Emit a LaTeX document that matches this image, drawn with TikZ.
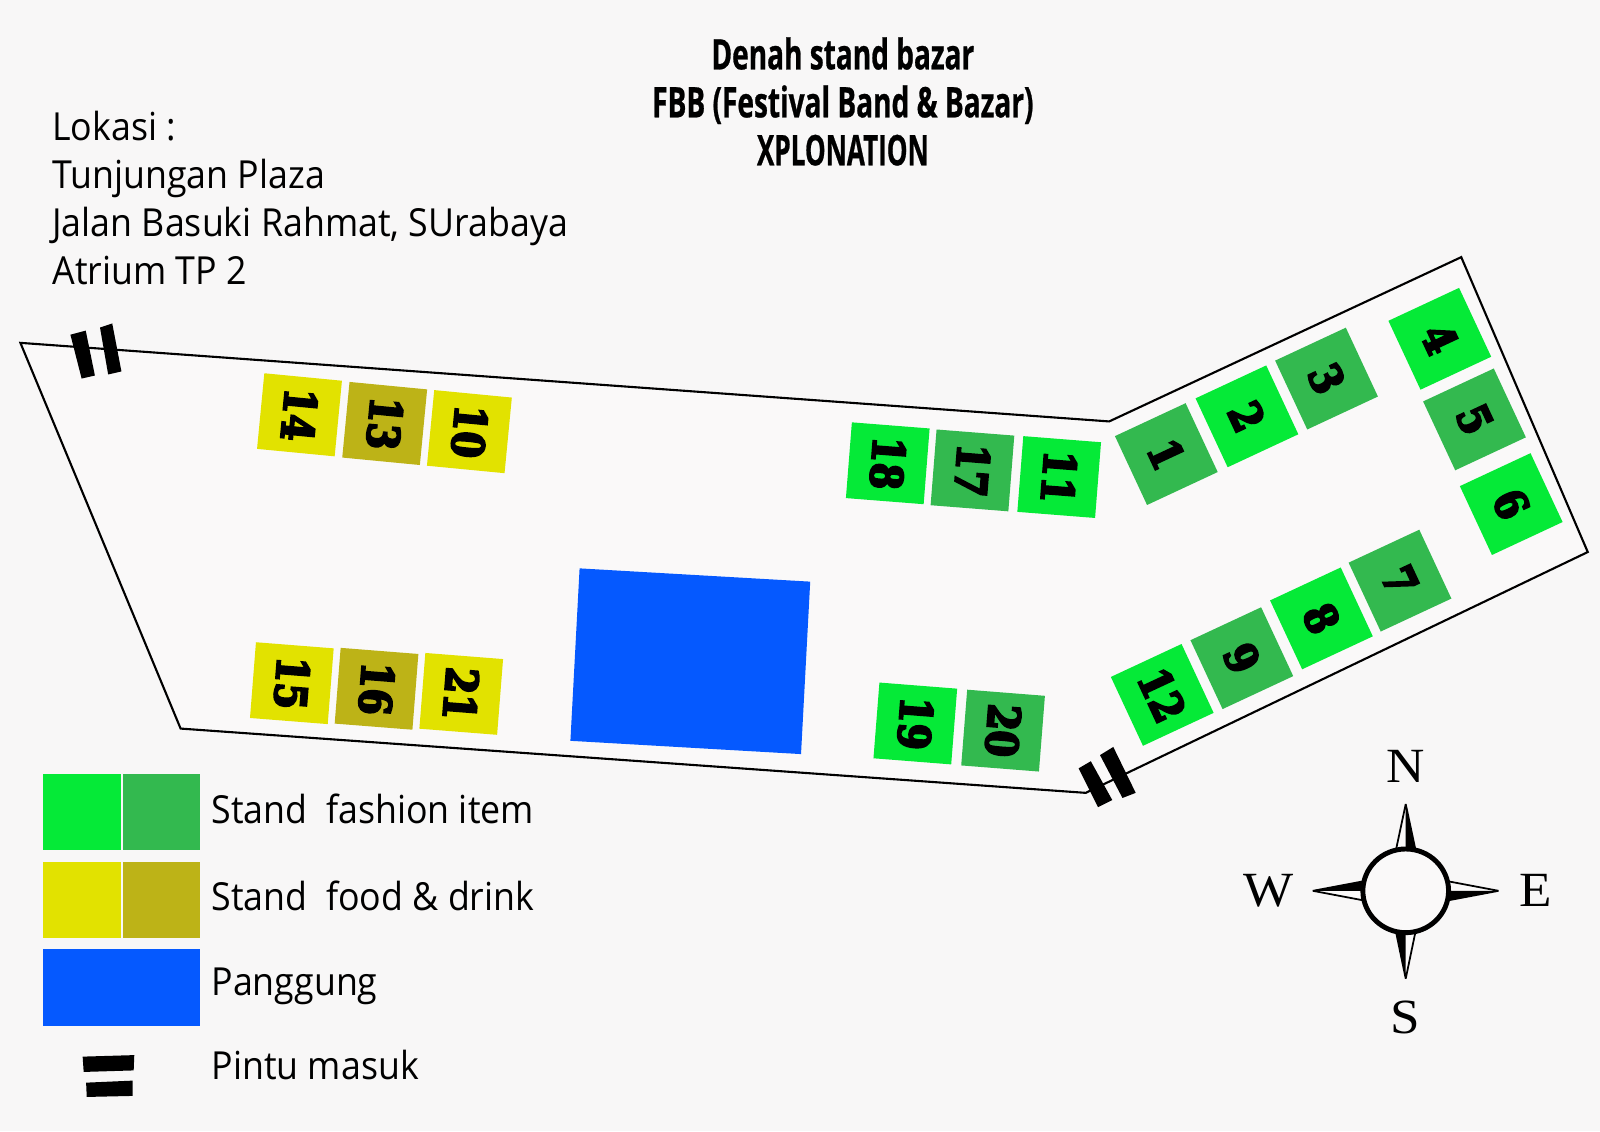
\documentclass[tikz,border=0pt]{standalone}
\usepackage{fontspec}
\usepackage{graphicx}
\setmainfont{Open Sans}
\newfontfamily\bodyf[FakeStretch=0.925]{Open Sans}
\newfontfamily\titlef[FakeStretch=0.665,FakeBold=0.6]{Open Sans}
\newfontfamily\numf[FakeBold=5,FakeStretch=0.86]{DejaVu Serif}
\newfontfamily\compf[FakeStretch=1.08]{Liberation Serif}
\definecolor{bgc}{HTML}{F8F7F7}
\definecolor{inner}{HTML}{FAF9F9}
\definecolor{gA}{HTML}{05EA37}
\definecolor{gB}{HTML}{33B94F}
\definecolor{yA}{HTML}{E2E200}
\definecolor{yB}{HTML}{BDB317}
\definecolor{bl}{HTML}{0559FF}
\tikzset{
  stand/.style={minimum width=1.56cm,minimum height=1.52cm,inner sep=0pt,font=\numf\bfseries\fontsize{25}{25}\selectfont},
  keybox/.style={minimum width=1.55cm,minimum height=1.53cm,inner sep=0pt,anchor=north west},
  keytxt/.style={anchor=base west,inner sep=0pt,font=\bodyf\fontsize{22}{26}\selectfont},
  titletxt/.style={anchor=base,inner sep=0pt,font=\titlef\bfseries\fontsize{24}{27}\selectfont},
  comptxt/.style={inner sep=0pt,font=\compf\fontsize{28}{28}\selectfont},
  door/.style={fill=black},
  wall/.style={draw=black,line width=1.2pt,line join=miter}
}
\newcommand{\lab}[1]{\rotatebox{-90}{#1}}
\begin{document}
\begin{tikzpicture}[x=0.02041cm,y=-0.02041cm]
\useasboundingbox (0,0) rectangle (1568,1108.4);
\fill[bgc] (0,0) rectangle (1568,1108.4);
% outline
\draw[wall,fill=inner] (20,336) -- (1087,413) -- (1432,252) -- (1556,541) -- (1064,777) -- (177,714) -- cycle;
% doors
\fill[door] (69,328) -- (84,324) -- (93,368) -- (80,371) -- cycle;
\fill[door] (98,321) -- (110,317) -- (119,364) -- (106,367) -- cycle;
\fill[door] (1057,753) -- (1069,746) -- (1090,784) -- (1076,791) -- cycle;
\fill[door] (1078,740) -- (1091,732) -- (1113,777) -- (1100,782) -- cycle;
% stage
\fill[bl] (568,557) -- (794,570) -- (785,739) -- (559,726) -- cycle;
% left-hand stands
\node[stand,fill=yA,rotate=-5.5] (s14) at (293.5,406.5) {\lab{14}};
\node[stand,fill=yB,rotate=-5.5] (s13) at (377,415) {\lab{13}};
\node[stand,fill=yA,rotate=-5.5] (s10) at (460,423) {\lab{10}};
\node[stand,fill=yA,rotate=-4.5] (s15) at (286,669.5) {\lab{15}};
\node[stand,fill=yB,rotate=-4.5] (s16) at (369,675) {\lab{16}};
\node[stand,fill=yA,rotate=-4.5] (s21) at (452,680) {\lab{21}};
\node[stand,fill=gA,rotate=-4.5] (s18) at (870,454) {\lab{18}};
\node[stand,fill=gB,rotate=-4.5] (s17) at (953,461) {\lab{17}};
\node[stand,fill=gA,rotate=-4.5] (s11) at (1038,467.5) {\lab{11}};
\node[stand,fill=gA,rotate=-4.5] (s19) at (897,709) {\lab{19}};
\node[stand,fill=gB,rotate=-4.5] (s20) at (983,716) {\lab{20}};
% right-hand stands
\node[stand,fill=gB,rotate=25] (s1) at (1143,445) {\lab{1}};
\node[stand,fill=gA,rotate=25] (s2) at (1222,408) {\lab{2}};
\node[stand,fill=gB,rotate=25] (s3) at (1300,371) {\lab{3}};
\node[stand,fill=gA,rotate=25] (s4) at (1411,332) {\lab{4}};
\node[stand,fill=gB,rotate=25] (s5) at (1445,411) {\lab{5}};
\node[stand,fill=gA,rotate=25] (s6) at (1481,494) {\lab{6}};
\node[stand,fill=gB,rotate=25] (s7) at (1372,569) {\lab{7}};
\node[stand,fill=gA,rotate=25] (s8) at (1295,606) {\lab{8}};
\node[stand,fill=gB,rotate=25] (s9) at (1217,645) {\lab{9}};
\node[stand,fill=gA,rotate=25] (s12) at (1139,681) {\lab{12}};
% title
\node[titletxt] (t1) at (826,68) {Denah stand bazar};
\node[titletxt] (t2) at (826,115) {FBB (Festival Band \& Bazar)};
\node[titletxt] (t3) at (826,162) {\scalebox{0.93}[1]{XPLONATION}};
% location
\node[keytxt] (l1) at (51,138) {Lokasi :};
\node[keytxt] (l2) at (51,185) {Tunjungan Plaza};
\node[keytxt] (l3) at (51,232) {Jalan Basuki Rahmat, SUrabaya};
\node[keytxt] (l4) at (51,279) {Atrium TP 2};
% legend
\node[keybox,fill=gA] (k1) at (42,758) {};
\node[keybox,fill=gB] (k2) at (120,758) {};
\node[keybox,fill=yA] (k3) at (42,844) {};
\node[keybox,fill=yB] (k4) at (120,844) {};
\node[keybox,fill=bl,minimum width=3.143cm] (k5) at (42,930) {};
\fill[door] (81,1035.5) -- (131.6,1034) -- (131,1049) -- (82,1050.5) -- cycle;
\fill[door] (84.4,1061) -- (130,1059) -- (130,1074) -- (85,1075) -- cycle;
\node[keytxt] (k1t) at (207,807) {Stand\ \ fashion item};
\node[keytxt] (k2t) at (207,892) {Stand\ \ food \& drink};
\node[keytxt] (k3t) at (207,976) {Panggung};
\node[keytxt] (k4t) at (207,1058) {Pintu masuk};
% compass
\foreach \r/\l in {0/85,-90/91,-180/86,-270/91}{
  \begin{scope}[shift={(1377.6,873)},rotate=\r]
    \draw[black,line width=1pt,line join=miter,miter limit=2,fill=inner] (0,-\l) -- (-10,-38) -- (10,-38) -- cycle;
    \fill[black] (0,-\l) -- (10,-38) -- (0,-38) -- cycle;
  \end{scope}
}
\draw[black,line width=2.8pt,fill=inner] (1377.6,873) ellipse [x radius=42,y radius=41];
\node[comptxt] (cn) at (1377.6,750.7) {N};
\node[comptxt] (ce) at (1505,873) {E};
\node[comptxt] (cs) at (1377.6,996.8) {S};
\node[comptxt] (cw) at (1243,873) {W};
\end{tikzpicture}
\end{document}
